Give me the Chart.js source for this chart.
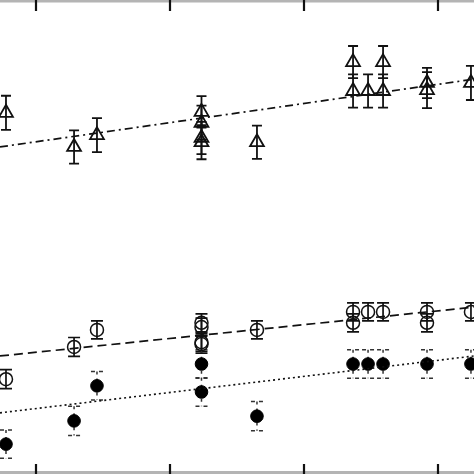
<!DOCTYPE html>
<html>
<head>
<meta charset="utf-8">
<script src="https://cdn.jsdelivr.net/npm/chart.js@4.4.1/dist/chart.umd.min.js"></script>
<style>
  html, body { margin: 0; padding: 0; background: #fff; }
  #wrap { width: 474px; height: 474px; }
</style>
</head>
<body>
<div id="wrap"><canvas id="chart"></canvas></div>
<script>
// tick positions along x (labels are cropped out of the figure)
const xTicks = [0, 1, 2, 3];

// open triangles
const triX = [-0.224, 0.284, 0.455, 1.235, 1.235, 1.235, 1.235, 1.649, 2.366, 2.366, 2.478, 2.590, 2.590, 2.918, 2.918, 3.246];
const triY = [76.2, 69.0, 71.5, 76.4, 74.1, 70.9, 70.0, 70.0, 86.9, 80.8, 80.8, 86.9, 80.8, 82.5, 81.0, 82.5];
const triErr = [3.6, 3.5, 3.6, 3.3, 3.6, 3.4, 3.6, 3.5, 3.4, 3.5, 3.5, 3.4, 3.5, 3.2, 3.8, 3.6];

// open circles
const circX = [-0.224, 0.284, 0.455, 1.235, 1.235, 1.235, 1.235, 1.649, 2.366, 2.366, 2.478, 2.590, 2.918, 2.918, 3.246];
const circY = [20.0, 26.8, 30.4, 31.9, 31.0, 27.8, 27.4, 30.4, 34.2, 31.9, 34.2, 34.2, 34.2, 31.9, 34.2];
const circErr = [2.0, 2.0, 1.9, 1.9, 1.9, 1.9, 1.9, 1.9, 1.9, 1.9, 1.9, 1.9, 1.9, 1.9, 1.9];

// filled circles
const fillX = [-0.224, 0.284, 0.455, 1.235, 1.235, 1.649, 2.366, 2.478, 2.590, 2.918, 3.246];
const fillY = [6.3, 11.2, 18.6, 23.2, 17.3, 12.2, 23.2, 23.2, 23.2, 23.2, 23.2];
const fillErr = [3.0, 3.1, 3.0, 3.0, 3.0, 3.1, 3.0, 3.0, 3.0, 3.0, 3.0];

// fitted lines, end points at the plot edges
const fitX = [-0.2687, 3.2687];
const triFit = [69.0, 83.3];
const circFit = [24.9, 35.2];
const fillFit = [12.9, 24.9];

const toPoints = (xs, ys) => xs.map((x, i) => ({ x, y: ys[i] }));

const errorBars = {
  id: 'errorBars',
  beforeDatasetsDraw(chart) {
    const { ctx, scales: { x, y } } = chart;
    const sets = [
      { xs: triX, ys: triY, es: triErr, cap: 5, dash: [], capDash: [], color: '#111', w: 1.8 },
      { xs: circX, ys: circY, es: circErr, cap: 6, dash: [], capDash: [], color: '#111', w: 1.7 },
      { xs: fillX, ys: fillY, es: fillErr, cap: 6, dash: [3, 4], capDash: [4, 4], color: '#333', w: 1.5 }
    ];
    ctx.save();
    sets.forEach(s => {
      ctx.strokeStyle = s.color;
      ctx.lineWidth = s.w;
      s.xs.forEach((xv, i) => {
        const px = x.getPixelForValue(xv);
        const top = y.getPixelForValue(s.ys[i] + s.es[i]);
        const bot = y.getPixelForValue(s.ys[i] - s.es[i]);
        ctx.setLineDash(s.dash);
        ctx.beginPath();
        ctx.moveTo(px, top); ctx.lineTo(px, bot);
        ctx.stroke();
        ctx.setLineDash(s.capDash);
        ctx.beginPath();
        ctx.moveTo(px - s.cap, top); ctx.lineTo(px + s.cap, top);
        ctx.moveTo(px - s.cap, bot); ctx.lineTo(px + s.cap, bot);
        ctx.stroke();
      });
    });
    ctx.restore();
  }
};

const frame = {
  id: 'frame',
  afterDraw(chart) {
    const { ctx, chartArea: a, scales: { x } } = chart;
    ctx.save();
    ctx.fillStyle = '#b4b4b4';
    ctx.fillRect(a.left, a.top, a.right - a.left, 2.5);
    ctx.fillRect(a.left, a.bottom - 3, a.right - a.left, 3);
    ctx.strokeStyle = '#111';
    ctx.lineWidth = 2.2;
    xTicks.forEach(t => {
      const px = Math.round(x.getPixelForValue(t));
      ctx.beginPath();
      ctx.moveTo(px, a.top); ctx.lineTo(px, a.top + 11);
      ctx.moveTo(px, a.bottom); ctx.lineTo(px, a.bottom - 10);
      ctx.stroke();
    });
    ctx.restore();
  }
};

new Chart(document.getElementById('chart'), {
  type: 'scatter',
  data: {
    datasets: [
      {
        type: 'line', data: toPoints(fitX, triFit), borderColor: '#111', borderWidth: 1.7,
        borderDash: [8, 4, 2, 4], pointRadius: 0, fill: false
      },
      {
        type: 'line', data: toPoints(fitX, circFit), borderColor: '#111', borderWidth: 1.7,
        borderDash: [9, 5], pointRadius: 0, fill: false
      },
      {
        type: 'line', data: toPoints(fitX, fillFit), borderColor: '#111', borderWidth: 1.6,
        borderDash: [2, 3], pointRadius: 0, fill: false
      },
      {
        data: toPoints(triX, triY), pointStyle: 'triangle', pointRadius: 8,
        borderColor: '#111', backgroundColor: 'rgba(0,0,0,0)', borderWidth: 1.8
      },
      {
        data: toPoints(circX, circY), pointStyle: 'circle', pointRadius: 6.5,
        borderColor: '#111', backgroundColor: 'rgba(0,0,0,0)', borderWidth: 1.5
      },
      {
        data: toPoints(fillX, fillY), pointStyle: 'circle', pointRadius: 6.3,
        borderColor: '#000', backgroundColor: '#000', borderWidth: 1
      }
    ]
  },
  options: {
    responsive: true,
    maintainAspectRatio: false,
    animation: false,
    layout: { padding: 0, autoPadding: false },
    plugins: { legend: { display: false }, tooltip: { enabled: false } },
    scales: {
      x: { type: 'linear', display: false, min: -0.2687, max: 3.2687 },
      y: { type: 'linear', display: false, min: 0, max: 100 }
    }
  },
  plugins: [errorBars, frame]
});
</script>
</body>
</html>
